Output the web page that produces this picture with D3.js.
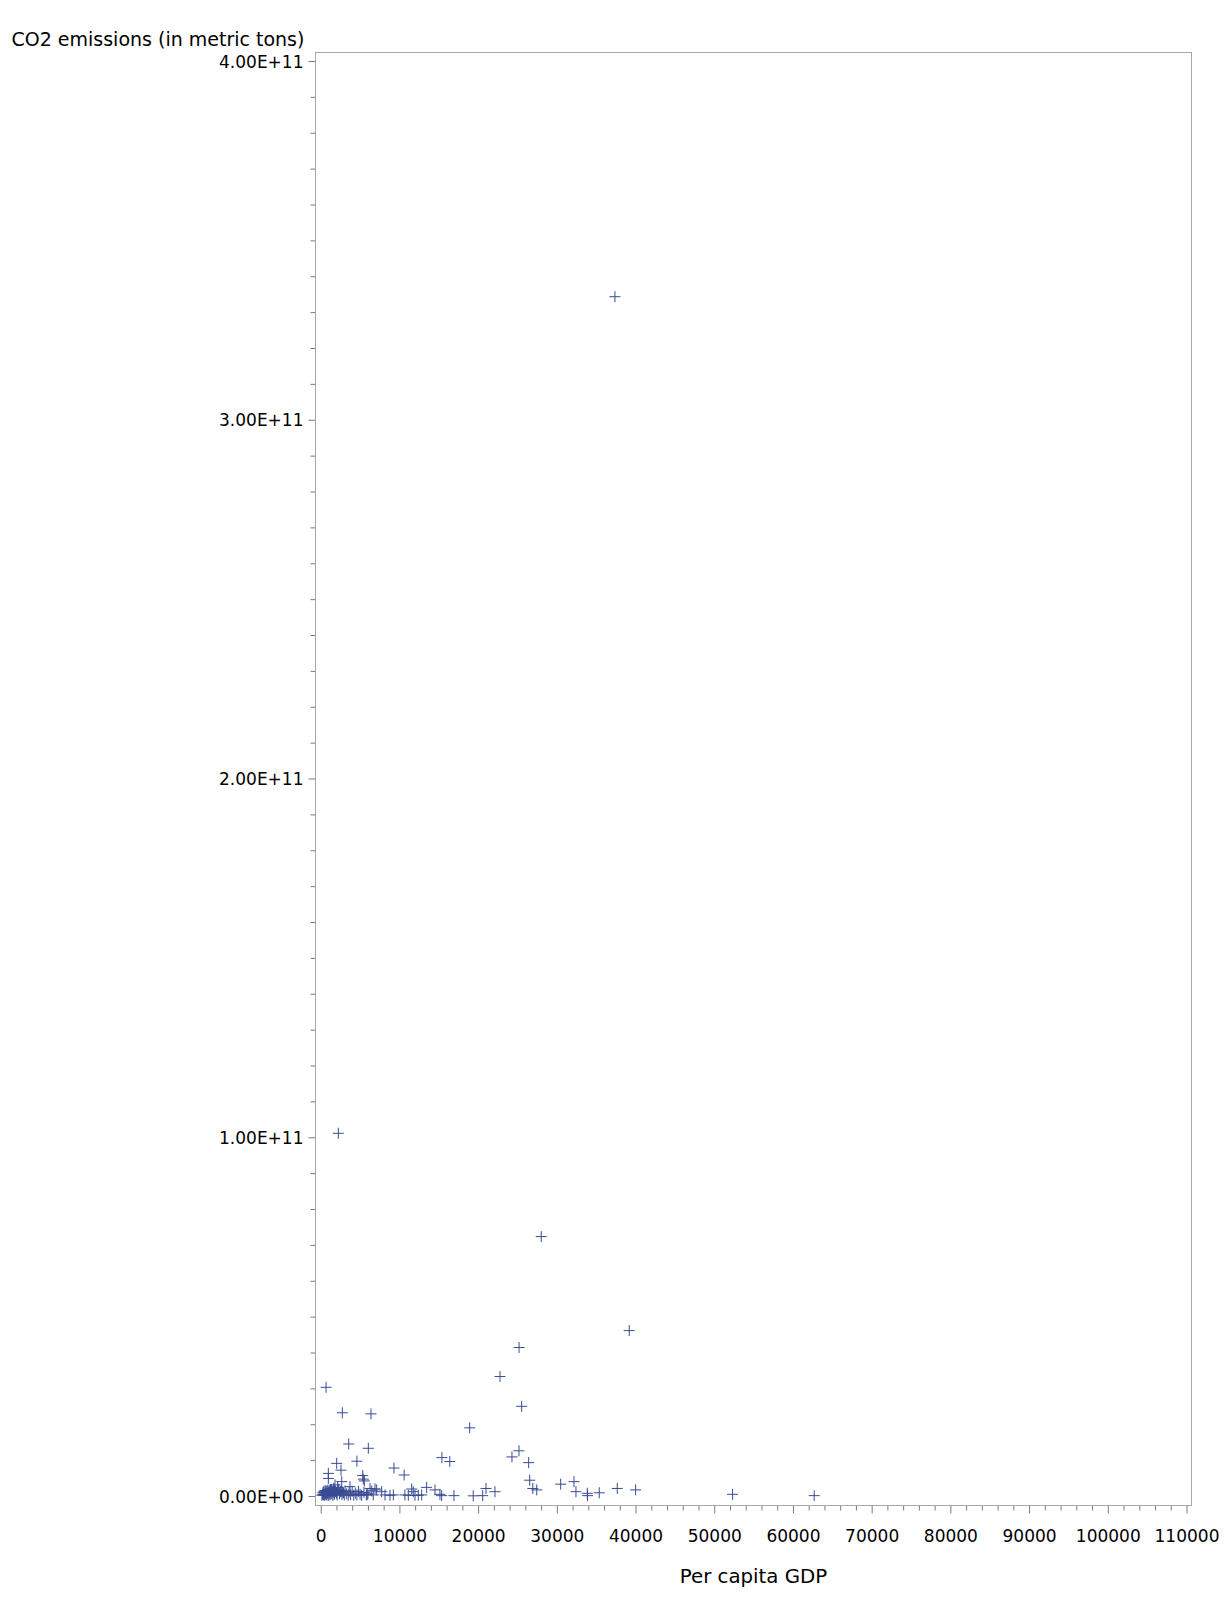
<!DOCTYPE html>
<html><head><meta charset="utf-8">
<script src="https://cdn.jsdelivr.net/npm/d3@7"></script>
<style>
body{margin:0;background:#fff}
text{font-family:"DejaVu Sans",sans-serif;fill:#000}
</style>
</head><body>
<svg id="chart" width="1225" height="1600"></svg>
<script>
// Per capita GDP (x) and CO2 emissions in metric tons (y)
const gdp = [
  37380, 2240, 28020, 39200, 25200, 22780, 680, 25530, 2750, 6390,
  18930, 3560, 6050, 25190, 15400, 24300, 16400, 26420, 4600, 2030,
  9310, 2580, 970, 970, 10600, 5340, 5410, 5550, 2670, 1820,
  3720, 26550, 26950, 27450, 30490, 32180, 32430, 33870, 33900, 35390,
  37680, 40010, 52330, 62700, 13460, 14520, 15150, 15370, 16930, 19380,
  20580, 21000, 22140, 11560, 11760, 11980, 12400, 12830, 10700, 11130,
  6480, 7110, 7750, 8170, 8800, 9230, 6680, 6260, 6900, 5900,
  150, 250, 300, 350, 400, 450, 500, 550, 600, 650,
  700, 750, 800, 850, 900, 950, 1000, 1050, 1100, 1150,
  1200, 1300, 1350, 1400, 1500, 1550, 1600, 1700, 1750, 1800,
  1900, 2000, 2100, 2200, 2300, 2400, 2500, 2600, 2700, 2800,
  2900, 3000, 3100, 3300, 3500, 3600, 3800, 4000, 4200, 4400,
  4600, 4800, 5000, 5200, 5500, 5800, 6000, 1250, 1650, 2150
];
const co2 = [
  3.343e11, 1.011e11, 7.23e10, 4.61e10, 4.14e10, 3.33e10, 3.03e10, 2.50e10, 2.32e10, 2.29e10,
  1.90e10, 1.45e10, 1.33e10, 1.26e10, 1.07e10, 1.09e10, 9.6e9, 9.3e9, 9.7e9, 9.1e9,
  7.8e9, 7.2e9, 6.3e9, 4.9e9, 5.85e9, 5.7e9, 4.7e9, 4.2e9, 4.0e9, 3.1e9,
  2.6e9, 4.4e9, 2.1e9, 1.7e9, 3.3e9, 4.0e9, 1.2e9, 7.5e8, 1.0e8, 9.0e8,
  2.1e9, 1.7e9, 4.7e8, 1.0e8, 2.4e9, 1.7e9, 4.7e8, 1.0e8, 1.0e8, 5.0e7,
  1.0e8, 2.1e9, 1.2e9, 1.95e9, 1.2e9, 2.0e8, 2.0e8, 3.0e8, 3.0e8, 2.0e8,
  1.4e9, 1.7e9, 1.2e9, 3.0e8, 2.0e8, 3.0e8, 3.0e8, 2.1e9, 2.0e9, 4.0e8,
  2.0e8, 5.0e8, 1.0e9, 3.0e8, 1.3e9, 6.0e8, 2.0e8, 1.5e9, 9.0e8, 4.0e8,
  1.4e9, 3.0e8, 1.2e9, 7.0e8, 1.6e9, 1.0e8, 1.1e9, 5.0e8, 1.5e9, 8.0e8,
  3.0e8, 1.1e9, 1.8e9, 6.0e8, 1.3e9, 2.0e8, 1.0e9, 1.6e9, 5.0e8, 1.4e9,
  1.2e9, 8.0e8, 3.0e8, 1.5e9, 1.9e9, 6.0e8, 1.2e9, 1.4e9, 4.0e8, 1.1e9,
  9.0e8, 3.0e8, 1.4e9, 6.0e8, 2.0e8, 1.1e9, 4.0e8, 1.3e9, 2.0e8, 8.0e8,
  3.0e8, 1.3e9, 5.0e8, 2.0e8, 1.0e9, 3.0e8, 6.0e8, 1.8e9, 2.2e9, 2.4e9
];
const xTickValues = [0, 10000, 20000, 30000, 40000, 50000, 60000, 70000, 80000, 90000, 100000, 110000];
const xTickLabels = ["0", "10000", "20000", "30000", "40000", "50000", "60000", "70000", "80000", "90000", "100000", "110000"];
const yTickValues = [0, 1e11, 2e11, 3e11, 4e11];
const yTickLabels = ["0.00E+00", "1.00E+11", "2.00E+11", "3.00E+11", "4.00E+11"];
const xMinorStep = 2000;
const yMinorStep = 1e10;
const xTitle = "Per capita GDP";
const yTitle = "CO2 emissions (in metric tons)";

const svg = d3.select("#chart");
const L = 315.5, R = 1191.5, T = 52.5, B = 1505.5;
const padL = 5.2, padR = 5, padT = 8.5, padB = 9.5;

const x = d3.scaleLinear().domain([0, 110000]).range([L + padL, R - padR]);
const y = d3.scaleLinear().domain([0, 4e11]).range([B - padB, T + padT]);

const xMinor = d3.range(0, 110000 + 1, xMinorStep).filter(v => v % 10000 !== 0);
const yMinor = d3.range(0, 4e11 + 1, yMinorStep).filter(v => Math.round(v / 1e10) % 10 !== 0);

const tickColor = "#7a7a7a";

// minor x ticks
const gxm = svg.append("g").attr("transform", `translate(0,${B})`)
  .call(d3.axisBottom(x).tickValues(xMinor).tickSize(5).tickFormat(""));
// major x ticks
const gx = svg.append("g").attr("transform", `translate(0,${B})`)
  .call(d3.axisBottom(x).tickValues(xTickValues).tickSize(8).tickPadding(8)
    .tickFormat((d, i) => xTickLabels[i]));
// minor y ticks
const gym = svg.append("g").attr("transform", `translate(${L},0)`)
  .call(d3.axisLeft(y).tickValues(yMinor).tickSize(5).tickFormat(""));
// major y ticks
const gy = svg.append("g").attr("transform", `translate(${L},0)`)
  .call(d3.axisLeft(y).tickValues(yTickValues).tickSize(7).tickPadding(5)
    .tickFormat((d, i) => yTickLabels[i]));

[gxm, gx, gym, gy].forEach(g => {
  g.select(".domain").remove();
  g.selectAll(".tick line").attr("stroke", tickColor);
  g.selectAll("text").attr("font-family", '"DejaVu Sans", sans-serif')
    .attr("font-size", 17).attr("fill", "#000");
});
gx.selectAll("text").attr("dy", null).attr("y", 36.3);
gy.selectAll("text").attr("dy", "0.36em");

// frame
svg.append("rect").attr("x", L).attr("y", T).attr("width", R - L).attr("height", B - T)
  .attr("fill", "none").attr("stroke", "#a8a8a8").attr("stroke-width", 1);

// markers
const s = 5.5;
const pts = gdp.map((g, i) => [g, co2[i]]);
svg.append("g").selectAll("path").data(pts).join("path")
  .attr("d", d => {
    const cx = x(d[0]), cy = y(d[1]);
    return `M${cx - s},${cy}H${cx + s}M${cx},${cy - s}V${cy + s}`;
  })
  .attr("stroke", "#3a4b94").attr("stroke-width", 1).attr("fill", "none");

// titles
svg.append("text").attr("x", 11.5).attr("y", 45.5).attr("font-size", 19).text(yTitle);
svg.append("text").attr("x", (L + R) / 2).attr("y", 1583).attr("text-anchor", "middle")
  .attr("font-size", 19.8).text(xTitle);
</script>
</body></html>
